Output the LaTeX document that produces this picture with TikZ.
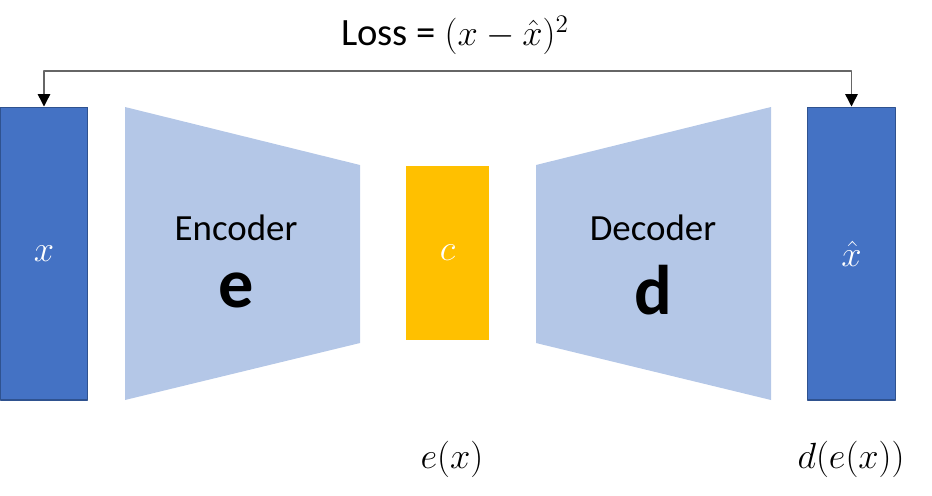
\documentclass[tikz,border=0pt]{standalone}
\usepackage{fontspec}
\setmainfont{Carlito}
\usetikzlibrary{arrows.meta}
\definecolor{datablue}{HTML}{4472C4}
\definecolor{edgeblue}{HTML}{2F528F}
\definecolor{netblue}{HTML}{B4C7E7}
\definecolor{codeyellow}{HTML}{FFC000}
\tikzset{
    databox/.style={draw=edgeblue, line width=0.6pt, fill=datablue, minimum width=1.75cm, minimum height=5.86cm, inner sep=0pt, text=white},
    codebox/.style={fill=codeyellow, minimum width=1.66cm, minimum height=3.48cm, inner sep=0pt, text=white},
    net/.style={fill=netblue},
    lbl/.style={font=\fontsize{21}{25}\selectfont, inner sep=0pt},
    big/.style={font=\fontsize{40}{46}\selectfont\bfseries, inner sep=0pt}
}
\begin{document}
\begin{tikzpicture}[line cap=round, line join=round, x=0.02cm, y=-0.02cm]
                \useasboundingbox (0, 0) rectangle (932, 495);
                % data and code
                \node[databox, lbl] (inx) at (44, 253.5) {$x$};
                \node[databox, lbl] (outx) at (851.5, 253.5) {$\hat{x}$};
                \node[codebox, lbl] (code) at (447.5, 253) {$c$};
                % encoder and decoder
                \coordinate (ea) at (125, 107);
                \coordinate (eb) at (360, 165);
                \coordinate (ec) at (360, 343);
                \coordinate (ed) at (125, 400);
                \coordinate (da) at (536, 165);
                \coordinate (db) at (771, 107);
                \coordinate (dc) at (771, 400);
                \coordinate (dd) at (536, 343);
                \fill[net] (ea) -- (eb) -- (ec) -- (ed) -- cycle;
                \fill[net] (da) -- (db) -- (dc) -- (dd) -- cycle;
                \foreach \name/\word/\letter/\cx in {enc/Encoder/e/236, dec/Decoder/d/653} {
                    \node[lbl] (\name) at (\cx, 228) {\word};
                    \node[big] (\name l) at (\cx, 290) {\letter};
                }
                % loss feedback
                \coordinate (top) at (448, 71);
                \node[lbl, font=\fontsize{22}{26}\selectfont] (loss) at (455, 35) {Loss = $(x-\hat{x})^2$};
                \draw[black!60, line width=0.8pt, {Triangle[width=7pt, length=7pt, black]}-{Triangle[width=7pt, length=7pt, black]}] (inx.north) |- (top) -| (outx.north);
                % outputs
                \node[lbl] (ex) at (452, 459) {$e(x)$};
                \node[lbl] (dex) at (851, 459) {$d(e(x))$};
            \end{tikzpicture}
\end{document}
